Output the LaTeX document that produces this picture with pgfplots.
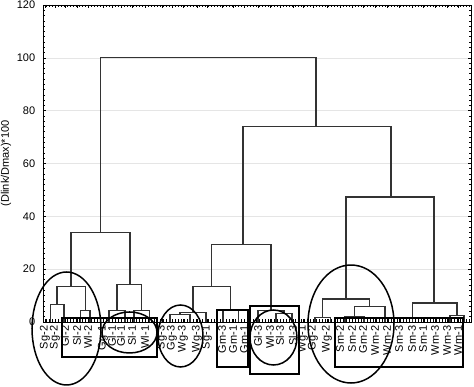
\documentclass[border=0pt]{standalone}
\usepackage{pgfplots}
\pgfplotsset{compat=1.18}
\usepackage{fontspec}
\setmainfont{Liberation Sans}
\begin{document}
\fontsize{11}{13}\selectfont
\begin{tikzpicture}
\begin{axis}[
  scale only axis, width=428pt, height=317pt,
  xmin=0, xmax=428, ymin=0, ymax=120,
  ytick={0,20,...,120}, minor y tick num=9,
  ymajorgrids, grid style={gray!20, line width=0.6pt},
  xtick={2,12,22,34,45,60,69,78,89,102,119,129,140,154,164,179,190,201,215,227,237,250,260,270,284,297,309,320,332,344,356,369,380,392,404,415},
  xticklabels={Sg-2,Sg-2,Gl-2,Sl-2,Wl-2,Gg-1,Gl-1,Gl-1,Sl-1,Wl-1,Sg-3,Gg-3,Wg-3,Wg-3,Sg-1,Gm-3,Gm-1,Gm-1,Gl-3,Wl-3,Sl-3,Sl-3,Wg-1,Gg-2,Wg-2,Sm-2,Sm-2,Gm-2,Wm-2,Wm-2,Sm-3,Sm-3,Sm-1,Wm-3,Wm-3,Wm-1},
  xticklabel style={rotate=90, anchor=east, font=\fontsize{11}{13}\selectfont},
  yticklabel style={font=\fontsize{11}{13}\selectfont, xshift=-4pt},
  minor xtick={0,3,...,428},
  tick style={black, line width=0.6pt},
  major tick length=3pt, minor tick length=2.5pt,
  ylabel={(Dlink/Dmax)*100},
  ylabel style={font=\fontsize{11}{13}\selectfont, yshift=-2pt},
  axis line style={black, line width=0.9pt},
  clip=false,
  /pgf/number format/assume math mode=true,
  tree/.style={black!80, line width=1.1pt, mark=none, sharp plot},
]
\addplot[tree] coordinates {(57.7,34) (57.7,100) (273,100) (273,74)};
\addplot[tree] coordinates {(28,13.5) (28,34) (87,34) (87,14.2)};
\addplot[tree] coordinates {(14,6.6) (14,13.5) (42.5,13.5) (42.5,4.4)};
\addplot[tree] coordinates {(7.7,0) (7.7,6.6) (21,6.6) (21,0)};
\addplot[tree] coordinates {(37.5,0) (37.5,4.4) (47,4.4) (47,0)};
\addplot[tree] coordinates {(74,4.2) (74,14.2) (98.7,14.2) (98.7,4.5)};
\addplot[tree] coordinates {(66,0) (66,4.2) (82,4.2) (82,0)};
\addplot[tree] coordinates {(91,0) (91,4.5) (106.5,4.5) (106.5,0)};
\addplot[tree] coordinates {(200,29.5) (200,74) (348,74) (348,47.3)};
\addplot[tree] coordinates {(168.7,13.5) (168.7,29.5) (228,29.5) (228,4.3)};
\addplot[tree] coordinates {(150,3.6) (150,13.5) (187.7,13.5) (187.7,4.9)};
\addplot[tree] coordinates {(137,2.8) (137,3.6) (163,3.6) (163,0)};
\addplot[tree] coordinates {(127,0) (127,2.8) (147,2.8) (147,0)};
\addplot[tree] coordinates {(180,0) (180,4.9) (195.4,4.9) (195.4,0)};
\addplot[tree] coordinates {(215,0) (215,4.3) (241,4.3) (241,3.2)};
\addplot[tree] coordinates {(233,0) (233,3.2) (249,3.2) (249,0)};
\addplot[tree] coordinates {(303,8.7) (303,47.3) (391,47.3) (391,7.2)};
\addplot[tree] coordinates {(279.7,1.8) (279.7,8.7) (326.3,8.7) (326.3,5.9)};
\addplot[tree] coordinates {(272,0) (272,1.8) (287.7,1.8) (287.7,0)};
\addplot[tree] coordinates {(311.3,2) (311.3,5.9) (342,5.9) (342,0)};
\addplot[tree] coordinates {(302,0) (302,2) (321,2) (321,0)};
\addplot[tree] coordinates {(369.7,0) (369.7,7.2) (414,7.2) (414,2.4)};
\addplot[tree] coordinates {(407,0) (407,2.4) (421,2.4) (421,0)};
% annotations
\draw[black, line width=1.5pt] (axis cs:23.5,-2.46) ellipse [x radius=34.5pt, y radius=56.5pt];
\draw[black, line width=1.5pt] (axis cs:19,1.51) rectangle (axis cs:114,-13.25);
\draw[black, line width=1.5pt] (axis cs:86.5,-3.97) ellipse [x radius=27.5pt, y radius=20.5pt];
\draw[black, line width=1.5pt] (axis cs:137.5,-5.3) ellipse [x radius=22.5pt, y radius=31pt];
\draw[black, line width=1.5pt] (axis cs:174,4.54) rectangle (axis cs:205,-17.03);
\draw[black, line width=1.5pt] (axis cs:207,6.06) rectangle (axis cs:256,-19.7);
\draw[black, line width=1.5pt] (axis cs:230.5,-5.87) ellipse [x radius=23.5pt, y radius=27.5pt];
\draw[black, line width=1.5pt] (axis cs:308,-0.76) ellipse [x radius=43pt, y radius=59pt];
\draw[black, line width=1.5pt] (axis cs:292,1.51) rectangle (axis cs:420,-17.03);
\end{axis}
\pgfresetboundingbox
\path[use as bounding box] ([xshift=-43pt,yshift=-65pt]current axis.south west) rectangle ([xshift=3pt,yshift=5pt]current axis.north east);
\end{tikzpicture}
\end{document}
